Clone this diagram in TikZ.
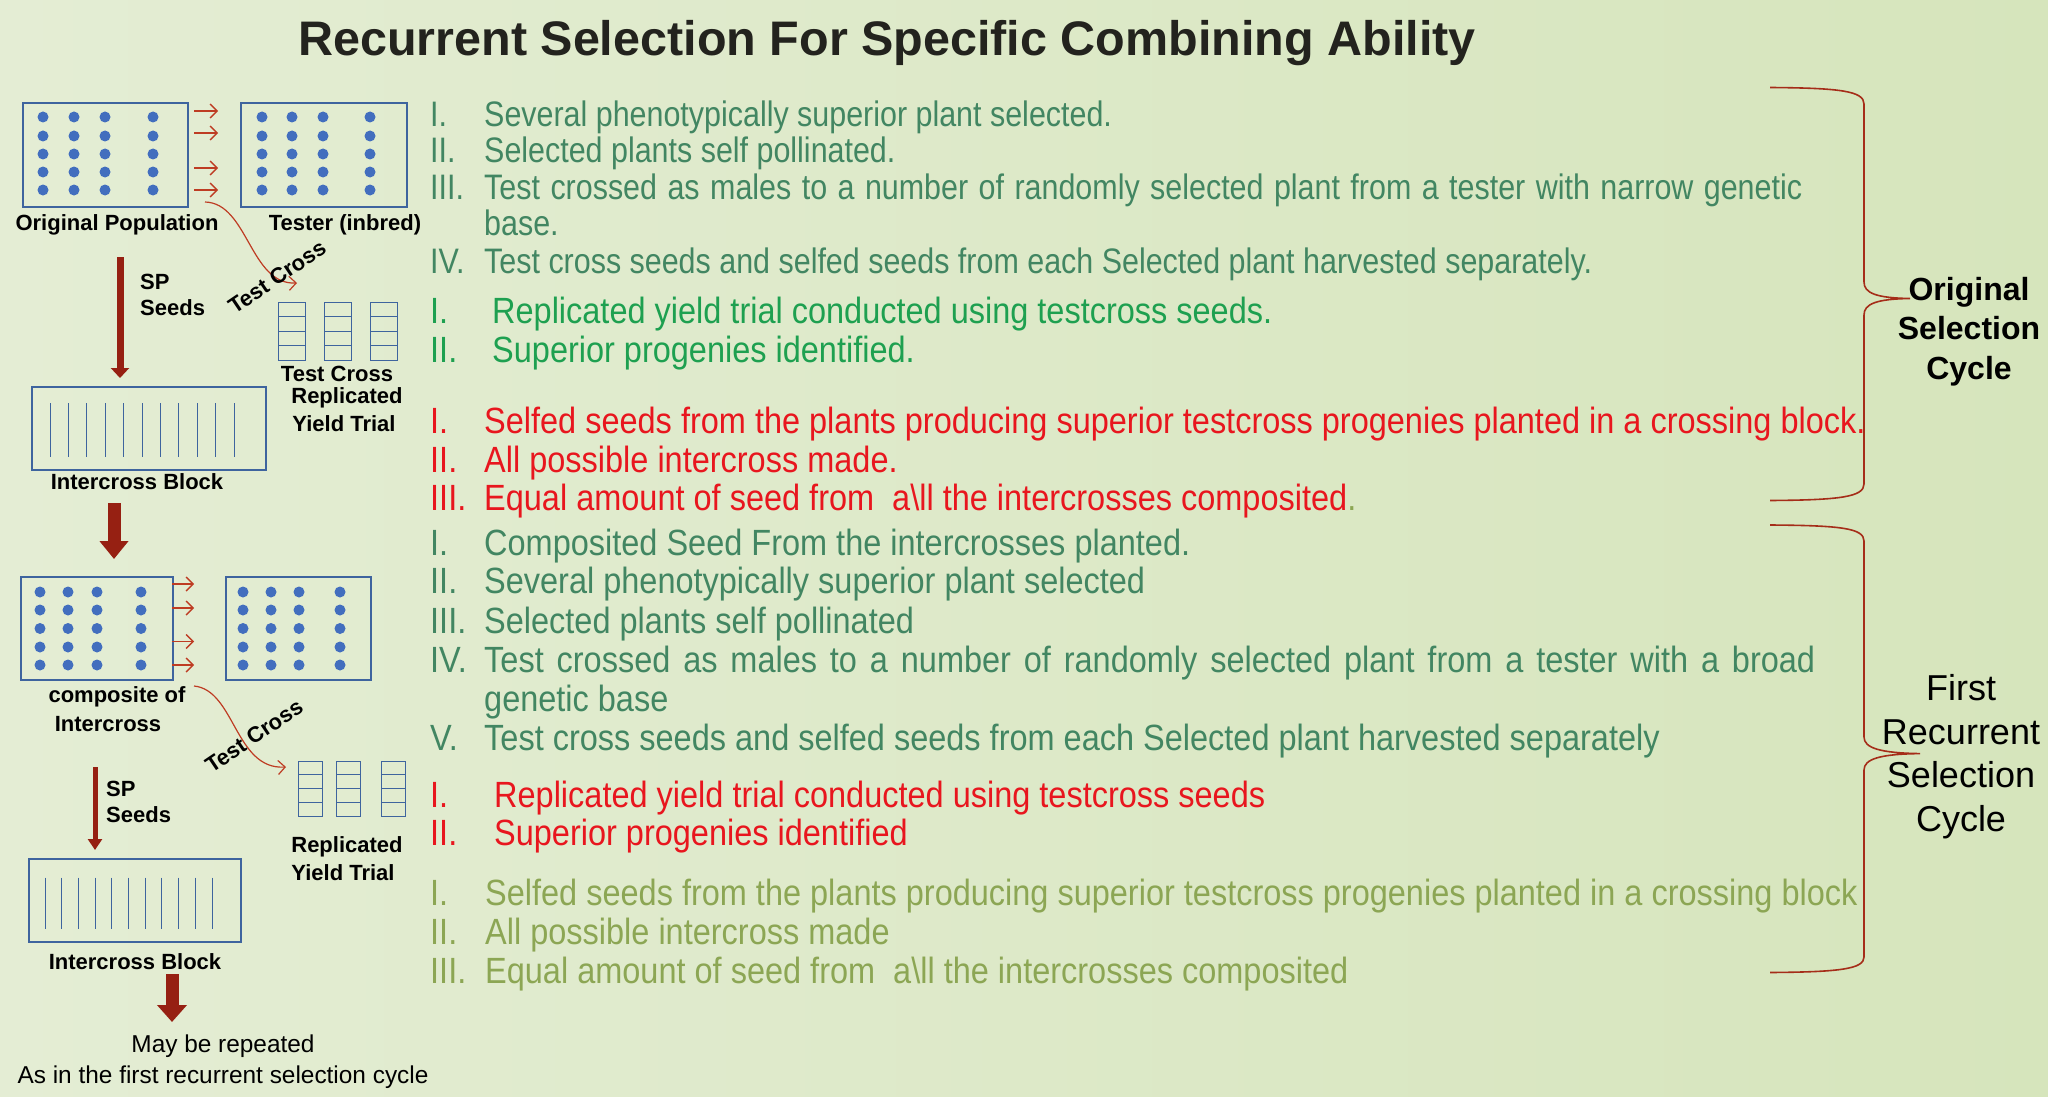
\documentclass[tikz,border=0pt]{standalone}
\usepackage{fontspec}
\setmainfont{Liberation Sans}
\newfontfamily\narrowfont[FakeStretch=0.86]{Liberation Sans}
\newfontfamily\widerfont[FakeStretch=0.89]{Liberation Sans}
\usetikzlibrary{arrows.meta}

\definecolor{bgleft}{RGB}{228,237,212}
\definecolor{bgmid}{RGB}{247,249,242}
\definecolor{bgright}{RGB}{214,229,188}
\definecolor{boxblue}{RGB}{62,100,158}
\definecolor{dotblue}{RGB}{66,110,190}
\definecolor{arrred}{RGB}{190,60,35}
\definecolor{darkarr}{RGB}{150,32,18}
\definecolor{bracered}{RGB}{165,45,25}
\definecolor{txtgreen}{RGB}{66,134,98}
\definecolor{brightgreen}{RGB}{30,160,80}
\definecolor{txtred}{RGB}{232,22,30}
\definecolor{txtolive}{RGB}{140,166,84}
\definecolor{titleblack}{RGB}{35,35,30}

\begin{document}
\begin{tikzpicture}[x=1pt,y=-1pt,
    plotbox/.style={draw=boxblue, line width=2.2pt, inner sep=0pt},
    plotline/.style={draw=boxblue, line width=1pt},
    lbl/.style={font=\fontsize{22}{26}\selectfont\bfseries, align=center, inner sep=0pt},
    listtxt/.style={font=\narrowfont\fontsize{35.4}{36}\selectfont, anchor=mid west, inner sep=0pt,
        text height=25pt, text depth=6pt},
    widetxt/.style={listtxt, font=\widerfont\fontsize{36.5}{37}\selectfont},
    smallarr/.style={draw=arrred, line width=1.4pt, -{Straight Barb[length=7pt,width=14pt]}},
    bigarr/.style={draw=darkarr, line width=7pt, -{Triangle[length=10pt,width=18pt]}},
    fatarr/.style={draw=darkarr, line width=13pt, -{Triangle[length=18pt,width=28pt]}},
    brace/.style={draw=bracered, line width=1.6pt}]
    % Fondo
    \useasboundingbox (0,0) rectangle (2048,1097);
    \shade[left color=bgleft, middle color=bgmid, right color=bgright] (0,0) rectangle (2048,1097);

    % Titulo
    \node[font=\fontsize{48.5}{50}\selectfont\bfseries, text=titleblack] (title) at (887,43)
        {Recurrent Selection For Specific Combining Ability};

    % Ciclo original: poblacion y probador
    \node[plotbox, minimum width=165, minimum height=104] (orig) at (105.5,155) {};
    \node[plotbox, minimum width=166, minimum height=104] (tester) at (324,155) {};
    \foreach \cx in {43,74,105,153} {
        \foreach \cy in {117,136,154,172,190} {\fill[dotblue] (\cx,\cy) circle (5.5);}
    }
    \foreach \cx in {262,292,323,370} {
        \foreach \cy in {117,136,154,172,190} {\fill[dotblue] (\cx,\cy) circle (5.5);}
    }
    \foreach \ay in {111,133,168,190} {
        \draw[smallarr, shorten <=5pt] (orig.east |- 0,\ay) -- ++(29,0);
    }
    \node[lbl] (origlbl) at (117,225) {Original Population};
    \node[lbl] (testerlbl) at (345,225) {Tester (inbred)};

    % Cruza de prueba hacia el ensayo
    \coordinate (tc1a) at (205,202);
    \coordinate (tc1b) at (297,283);
    \draw[smallarr, line width=1.2pt] (tc1a) .. controls (248,203) and (250,285) .. (tc1b);
    \node[lbl, rotate=34] (tc1lbl) at (277,277) {Test Cross};
    \foreach \px in {278,324,370} {
        \draw[plotline] (\px,302) rectangle ++(27,58);
        \foreach \k in {1,2,3} {\draw[plotline] (\px,302+14.5*\k) -- ++(27,0);}
    }
    \node[lbl] (trial1a) at (337,374) {Test Cross};
    \node[lbl] (trial1b) at (347,398) {Replicated};
    \node[lbl] (trial1c) at (344,424) {Yield Trial};

    % Semillas SP y bloque de intercruza
    \coordinate (sp1a) at (120,257);
    \coordinate (sp1b) at (120,378);
    \draw[bigarr] (sp1a) -- (sp1b);
    \node[lbl, align=left, anchor=west] (sp1) at (140,295) {SP\\Seeds};
    \node[plotbox, line width=2.8pt, minimum width=234, minimum height=83] (block1) at (149,428.5) {};
    \foreach \k in {0,...,10} {\draw[plotline] (50+18.4*\k,403) -- ++(0,54);}
    \node[lbl] (block1lbl) at (137,482) {Intercross Block};
    \coordinate (fat1a) at (114,503);
    \coordinate (fat1b) at (114,559);
    \draw[fatarr] (fat1a) -- (fat1b);

    % Primer ciclo recurrente
    \node[plotbox, minimum width=152, minimum height=103] (comp) at (97,628.5) {};
    \node[plotbox, minimum width=145, minimum height=103] (tester2) at (298.5,628.5) {};
    \foreach \cx in {40,68,97,141} {
        \foreach \cy in {592,610,628.5,647,665} {\fill[dotblue] (\cx,\cy) circle (5.5);}
    }
    \foreach \cx in {243,271,299,340} {
        \foreach \cy in {592,610,628.5,647,665} {\fill[dotblue] (\cx,\cy) circle (5.5);}
    }
    \foreach \ay in {584,608,641.5,665} {
        \draw[smallarr, shorten <=-2pt] (comp.east |- 0,\ay) -- ++(20,0);
    }
    \node[lbl] (complbla) at (117,697) {composite of};
    \node[lbl] (complblb) at (108,724) {Intercross};

    \coordinate (tc2a) at (194,686);
    \coordinate (tc2b) at (286,767);
    \draw[smallarr, line width=1.2pt] (tc2a) .. controls (235,690) and (235,770) .. (tc2b);
    \node[lbl, rotate=34] (tc2lbl) at (254,736) {Test Cross};
    \foreach \px in {298,336,381} {
        \draw[plotline] (\px,761) rectangle ++(24,55);
        \foreach \k in {1,2,3} {\draw[plotline] (\px,761+13.75*\k) -- ++(24,0);}
    }
    \node[lbl] (trial2b) at (347,847) {Replicated};
    \node[lbl] (trial2c) at (343,873) {Yield Trial};

    \coordinate (sp2a) at (95,767);
    \coordinate (sp2b) at (95,850);
    \draw[bigarr, line width=5pt, -{Triangle[length=11pt,width=14pt]}] (sp2a) -- (sp2b);
    \node[lbl, align=left, anchor=west] (sp2) at (106,802) {SP\\Seeds};
    \node[plotbox, line width=2.8pt, minimum width=212, minimum height=83] (block2) at (135,900.5) {};
    \foreach \k in {0,...,10} {\draw[plotline] (45+16.7*\k,877.5) -- ++(0,51.5);}
    \node[lbl] (block2lbl) at (135,962) {Intercross Block};
    \coordinate (fat2a) at (172,974);
    \coordinate (fat2b) at (172,1022);
    \draw[fatarr, -{Triangle[length=17pt,width=29pt]}] (fat2a) -- (fat2b);
    \node[font=\fontsize{24.4}{31}\selectfont, align=center] (repeat) at (223,1061.5)
        {May be repeated\\As in the first recurrent selection cycle};

    % Lista del ciclo original
    \node[listtxt, text=txtgreen] (a1) at (430,124) {\makebox[54pt][l]{I.}Several phenotypically superior plant selected.};
    \node[listtxt, text=txtgreen] (a2) at (430,160) {\makebox[54pt][l]{II.}Selected plants self pollinated.};
    \node[listtxt, text=txtgreen] (a3) at (430,196.5) {\makebox[54pt][l]{III.}\makebox[1318pt][s]{Test crossed as males to a number of randomly selected plant from a tester with narrow genetic}};
    \node[listtxt, text=txtgreen] (a3b) at (430,233.3) {\makebox[54pt][l]{}base.};
    \node[listtxt, text=txtgreen] (a4) at (430,270.5) {\makebox[54pt][l]{IV.}Test cross seeds and selfed seeds from each Selected plant harvested separately.};

    \node[widetxt, text=brightgreen] (b1) at (430,321) {\makebox[62pt][l]{I.}Replicated yield trial conducted using testcross seeds.};
    \node[widetxt, text=brightgreen] (b2) at (430,360) {\makebox[62pt][l]{II.}Superior progenies identified.};

    \node[widetxt, text=txtred] (c1) at (430,431) {\makebox[54pt][l]{I.}Selfed seeds from the plants producing superior testcross progenies planted in a crossing block.};
    \node[widetxt, text=txtred] (c2) at (430,470) {\makebox[54pt][l]{II.}All possible intercross made.};
    \node[widetxt, text=txtred] (c3) at (430,508) {\makebox[54pt][l]{III.}Equal amount of seed from~ a\textbackslash ll the intercrosses composited\textcolor{txtolive}{.}};

    % Lista del primer ciclo recurrente
    \node[widetxt, text=txtgreen] (d1) at (430,552.5) {\makebox[54pt][l]{I.}Composited Seed From the intercrosses planted.};
    \node[widetxt, text=txtgreen] (d2) at (430,591) {\makebox[54pt][l]{II.}Several phenotypically superior plant selected};
    \node[widetxt, text=txtgreen] (d3) at (430,630.5) {\makebox[54pt][l]{III.}Selected plants self pollinated};
    \node[widetxt, text=txtgreen] (d4) at (430,670) {\makebox[54pt][l]{IV.}\makebox[1331pt][s]{Test crossed as males to a number of randomly selected plant from a tester with a broad}};
    \node[widetxt, text=txtgreen] (d4b) at (430,709) {\makebox[54pt][l]{}genetic base};
    \node[widetxt, text=txtgreen] (d5) at (430,747.5) {\makebox[54pt][l]{V.}Test cross seeds and selfed seeds from each Selected plant harvested separately};

    \node[widetxt, text=txtred] (e1) at (430,805) {\makebox[64pt][l]{I.}Replicated yield trial conducted using testcross seeds};
    \node[widetxt, text=txtred] (e2) at (430,843) {\makebox[64pt][l]{II.}Superior progenies identified};

    \node[widetxt, text=txtolive] (f1) at (430,903) {\makebox[55pt][l]{I.}Selfed seeds from the plants producing superior testcross progenies planted in a crossing block};
    \node[widetxt, text=txtolive] (f2) at (430,942) {\makebox[55pt][l]{II.}All possible intercross made};
    \node[widetxt, text=txtolive] (f3) at (430,981) {\makebox[55pt][l]{III.}Equal amount of seed from~ a\textbackslash ll the intercrosses composited};

    % Llaves
    \draw[brace] (1770,87.5) .. controls (1840,88) and (1864,91) .. (1864,104) -- (1864,282)
        .. controls (1864,293) and (1876,298) .. (1910,298.5)
        .. controls (1876,299) and (1864,304) .. (1864,315) -- (1864,484)
        .. controls (1864,497) and (1840,500) .. (1770,500.5);
    \draw[brace] (1770,525) .. controls (1840,525.5) and (1864,528) .. (1864,541) -- (1864,737)
        .. controls (1864,748) and (1880,753) .. (1920,753.6)
        .. controls (1880,754) and (1864,759) .. (1864,770) -- (1864,957)
        .. controls (1864,969) and (1840,972) .. (1770,972.5);
    \node[font=\fontsize{32}{39.5}\selectfont\bfseries, align=center] (origcycle) at (1969,331.5)
        {Original\\Selection\\Cycle};
    \node[font=\fontsize{36}{43.5}\selectfont, align=center] (firstcycle) at (1961,756.5)
        {First\\Recurrent\\Selection\\Cycle};
\end{tikzpicture}
\end{document}
